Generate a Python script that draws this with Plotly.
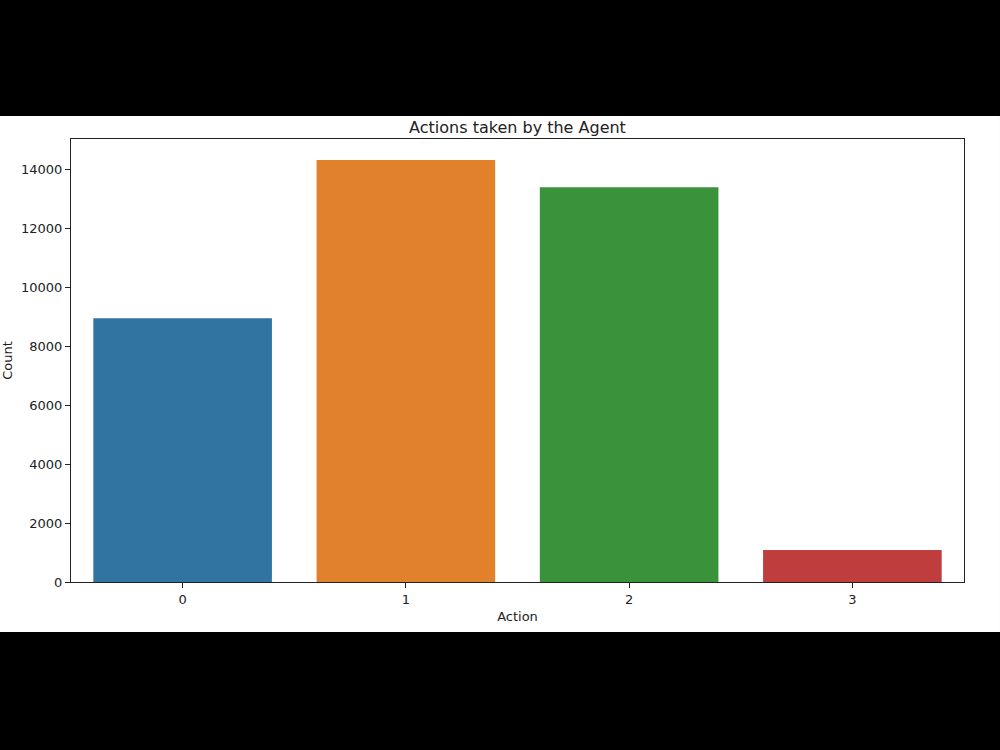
import plotly.graph_objects as go

actions = ["0", "1", "2", "3"]
counts = [8945, 14315, 13390, 1085]
colors = ["#3274a1", "#e1812c", "#3a923a", "#c03d3e"]

font = "DejaVu Sans"

fig = go.Figure()
fig.add_trace(go.Bar(x=actions, y=counts, marker=dict(color=colors, line=dict(width=0)), width=0.8))

# white figure area between the black bands
fig.add_shape(type="rect", xref="paper", yref="paper", x0=-0.0795, x1=1.0403, y0=-0.113, y1=1.052,
              fillcolor="white", line=dict(width=0), layer="below")

axis = dict(showline=True, linecolor="#222", linewidth=1, mirror=True, ticks="outside",
            ticklen=5, tickcolor="#222", showgrid=False, zeroline=False, automargin=False,
            tickfont=dict(family=font, size=13, color="#222"))

fig.update_layout(
    width=1000, height=750,
    margin=dict(l=71, r=36, t=139, b=168),
    paper_bgcolor="black", plot_bgcolor="white",
    showlegend=False,
    title=dict(text="Actions taken by the Agent", x=0.5, xref="paper", xanchor="center",
               y=1.0, yref="paper", yanchor="bottom", pad=dict(b=6),
               font=dict(family=font, size=16, color="#222")),
    xaxis=dict(axis, range=[-0.5, 3.5], type="category",
               title=dict(text="Action", font=dict(family=font, size=13, color="#222"), standoff=6)),
    yaxis=dict(axis, range=[0, 15031], dtick=2000, tickformat="d",
               title=dict(text="Count", font=dict(family=font, size=13, color="#222"), standoff=6)),
)

fig.write_html("out.html", config={"displayModeBar": False},
               post_script="document.body.style.margin='0';")
